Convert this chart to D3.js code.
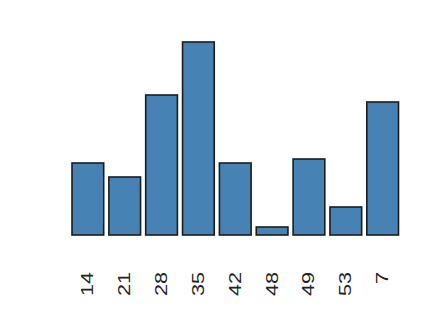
<!DOCTYPE html>
<html>
<head>
<meta charset="utf-8">
<script src="https://cdn.jsdelivr.net/npm/d3@7"></script>
<style>
  html, body { margin: 0; padding: 0; background: #ffffff; }
  svg { display: block; }
</style>
</head>
<body>
<script>
const categories = ["14", "21", "28", "35", "42", "48", "49", "53", "7"];
const values = [72, 58, 140, 193, 72, 8, 76, 28, 133];

const W = 426, H = 314;
const svg = d3.select("body").append("svg").attr("width", W).attr("height", H);

const x = d3.scaleBand().domain(categories).range([72, 398.5]).paddingInner(0.14).paddingOuter(0);
const y = d3.scaleLinear().domain([0, 200]).range([235, 35]);

svg.append("g").selectAll("rect")
  .data(categories.map((c, i) => ({ c, v: values[i] })))
  .join("rect")
  .attr("x", d => x(d.c))
  .attr("y", d => y(d.v))
  .attr("width", x.bandwidth())
  .attr("height", d => y(0) - y(d.v))
  .attr("fill", "#4682b4")
  .attr("stroke", "#1c1c1c")
  .attr("stroke-width", 1.6);

const xAxis = d3.axisBottom(x).tickSize(0).tickPadding(0);
const gx = svg.append("g").attr("transform", "translate(0,272)").call(xAxis);
gx.select(".domain").remove();
gx.selectAll("text")
  .attr("x", 0).attr("y", 0).attr("dy", null)
  .attr("transform", "scale(1,1.35) rotate(-90)")
  .attr("text-anchor", "end")
  .attr("dominant-baseline", "central")
  .attr("font-family", "Liberation Sans, Arial, sans-serif")
  .attr("font-size", 16)
  .attr("fill", "#222");
</script>
</body>
</html>
